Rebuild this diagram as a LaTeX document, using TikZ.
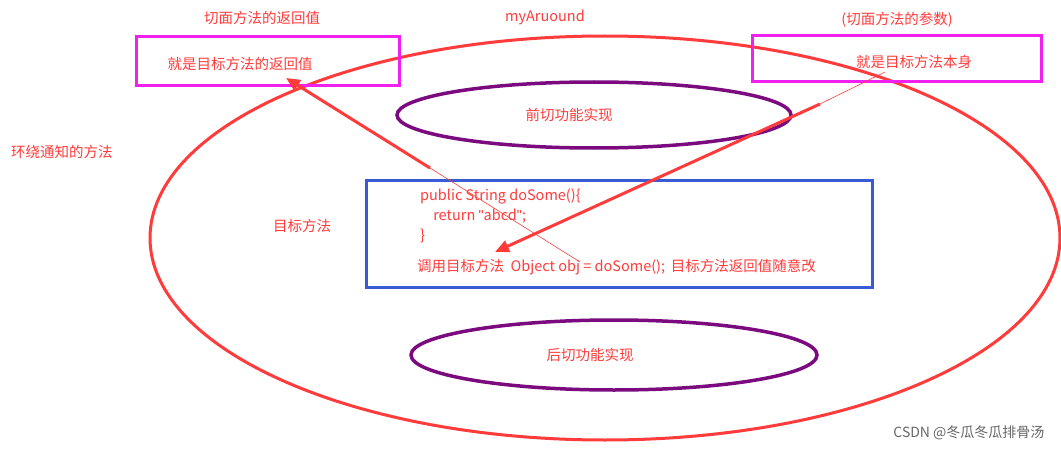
\documentclass[tikz,border=0pt]{standalone}
\usepackage{fontspec}
\setmainfont{Noto Sans CJK SC}
\newfontfamily\lat[Ligatures=NoCommon]{Liberation Sans}
\usetikzlibrary{arrows.meta}
\definecolor{rd}{HTML}{FF3B3B}
\definecolor{pu}{HTML}{7B0A7F}
\definecolor{mg}{HTML}{F020F0}
\definecolor{bl}{HTML}{3A5BD6}
\tikzset{lbl/.style={text=rd,font=\fontsize{14.5}{20}\selectfont,inner sep=0pt},
 box/.style={draw=#1,line width=3pt}}
\begin{document}
\begin{tikzpicture}[x=1pt,y=-1pt]
\useasboundingbox (0,0) rectangle (1061,452);
\draw[rd,line width=3pt] (605,238) ellipse [x radius=455,y radius=202];
\draw[pu,line width=3.5pt] (594,115) ellipse [x radius=197,y radius=33];
\draw[pu,line width=3.5pt] (614,355) ellipse [x radius=203,y radius=35];
\draw[box=bl] (366,180) rectangle (872,287);
\draw[box=mg] (136,37) rectangle (399,86);
\draw[box=mg] (752,36) rectangle (1041,82);
\node[lbl] (t1) at (262,18) {切面方法的返回值};
\node[lbl] (t2) at (545,17) {myAruound};
\node[lbl] (t3) at (897,20) {(切面方法的参数)};
\node[lbl] (r1) at (240,64) {就是目标方法的返回值};
\node[lbl] (r2) at (914,62) {就是目标方法本身};
\node[lbl] (l1) at (62,152) {环绕通知的方法};
\node[lbl] (l2) at (302,226) {目标方法};
\node[lbl] (p1) at (569,115) {前切功能实现};
\node[lbl] (p2) at (590,355) {后切功能实现};
\node[lbl,anchor=west,align=left] (code) at (420,216) {public String doSome()\{\\\hspace*{0.9em}return {\lat\symbol{"22}}abcd{\lat\symbol{"22}};\\\}};
\node[lbl,anchor=west] (call) at (417,267) {调用目标方法\ \ Object obj = doSome();\ \,目标方法返回值随意改};
\coordinate (a1) at (885,72);
\coordinate (a2) at (820,104);
\coordinate (a3) at (495,252);
\coordinate (b1) at (580,262);
\coordinate (b2) at (430,168);
\coordinate (b3) at (286,78);
\draw[rd,line width=0.6pt] (a1) -- (a2);
\draw[rd,line width=3pt,-{Triangle[length=14pt,width=12pt]}] (a2) -- (a3);
\draw[rd,line width=0.6pt] (b1) -- (b2);
\draw[rd,line width=3pt,-{Triangle[length=14pt,width=12pt]}] (b2) -- (b3);
\node[text=gray!80!black,font=\fontsize{14}{16}\selectfont,anchor=east] (wm) at (1048,433) {CSDN @冬瓜冬瓜排骨汤};
\end{tikzpicture}
\end{document}
